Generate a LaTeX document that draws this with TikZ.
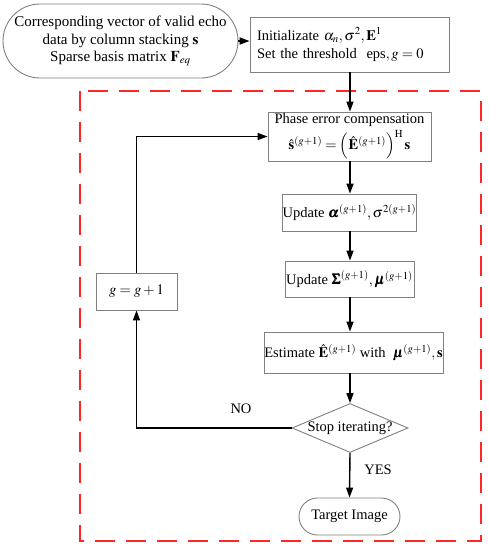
\documentclass[tikz,border=0pt]{standalone}
\usepackage{amsmath}
\usepackage{mathptmx}
\usepackage{bm}
\usepackage{fontspec}
\setmainfont{Liberation Serif}
\usetikzlibrary{arrows.meta,shapes.geometric,shapes.misc}
\begin{document}
\begin{tikzpicture}[x=1pt,y=-1pt,
  font=\fontsize{14.5}{18}\selectfont,
  box/.style={draw=black!50,line width=0.9pt,fill=white,inner sep=0pt,align=center},
  term/.style={box,rounded rectangle},
  arr/.style={draw=black,line width=1.4pt,-{Triangle[length=10pt,width=7pt]}},
  lbl/.style={inner sep=0pt}]
\useasboundingbox (0,0) rectangle (489,550);
\draw[red!85!white,line width=1.5pt,dash pattern=on 20pt off 11pt] (80,91) rectangle (481,541);
\node[term,minimum width=235pt,minimum height=74pt,font=\fontsize{15}{17.5}\selectfont] (src) at (120.5,41)
  {Corresponding vector of valid echo\\data by column stacking\ $\mathbf{s}$\\Sparse basis matrix\ $\mathbf{F}_{eq}$};
\node[box,minimum width=199pt,minimum height=55pt,align=left,text width=185pt] (init) at (349.5,44.5)
  {Initializate $\alpha_n,\sigma^2,\mathbf{E}^1$\\Set the threshold\ \ eps$,g=0$};
\node[box,minimum width=163pt,minimum height=49pt] (phase) at (349.5,136.5)
  {Phase error compensation\\[2pt]$\hat{\mathbf{s}}^{(g+1)}=\left(\hat{\mathbf{E}}^{(g+1)}\right)^{\mathrm{H}}\mathbf{s}$};
\node[box,minimum width=129pt,minimum height=37pt] (upa) at (349.5,212.5)
  {Update\ $\bm{\alpha}^{(g+1)},\sigma^{2(g+1)}$};
\node[box,minimum width=129pt,minimum height=36pt] (ups) at (349.5,279)
  {Update\ $\bm{\Sigma}^{(g+1)},\bm{\mu}^{(g+1)}$};
\node[box,minimum width=179pt,minimum height=41pt] (est) at (353.5,352.5)
  {Estimate\ $\hat{\mathbf{E}}^{(g+1)}$ with\ \ $\bm{\mu}^{(g+1)},\mathbf{s}$};
\node[box,diamond,aspect=2.4,minimum width=116pt,minimum height=49pt] (stop) at (350,428)
  {Stop iterating?};
\node[term,minimum width=101pt,minimum height=37pt] (tgt) at (349.5,516.5) {Target Image};
\node[box,minimum width=81pt,minimum height=37pt] (inc) at (136.5,291.5) {$g=g+1$};
\node[lbl] (no) at (241,409) {NO};
\node[lbl] (yes) at (378,470) {YES};
\draw[arr] (src.east) -- (src.east -| init.west);
\draw[arr] (init.south -| stop.north) -- (phase.north -| stop.north);
\draw[arr] (phase.south -| stop.north) -- (upa.north -| stop.north);
\draw[arr] (upa.south -| stop.north) -- (ups.north -| stop.north);
\draw[arr] (ups.south -| stop.north) -- (est.north -| stop.north);
\draw[arr] (est.south -| stop.north) -- (stop.north);
\draw[arr] (stop.south) -- (tgt.north);
\draw[arr] (stop.west) -| (inc.south);
\draw[arr] (inc.north) |- (phase.west);
\end{tikzpicture}
\end{document}
